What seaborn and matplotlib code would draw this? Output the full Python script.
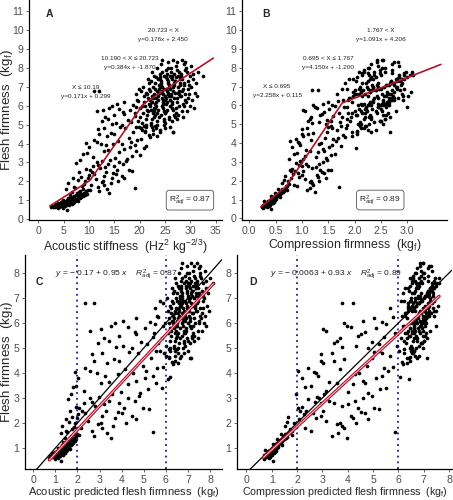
import numpy as np
import pandas as pd
import matplotlib
matplotlib.use("Agg")
import matplotlib.pyplot as plt
import seaborn as sns

# flesh firmness (kgf), acoustic stiffness, compression firmness (kgf) -- one entry per fruit
firmness = [
    # soft fruit
    0.62, 0.68, 0.70, 0.66, 0.72, 0.75, 0.58, 0.80, 0.64, 0.78,
    0.85, 0.70, 0.90, 0.60, 0.82, 0.75, 0.95, 0.68, 0.88, 0.50,
    1.00, 0.78, 0.92, 0.72, 1.05, 0.85, 1.10, 0.80, 0.95, 1.15,
    0.90, 1.20, 1.00, 1.25, 1.05, 0.98, 1.30, 1.12, 1.35, 1.20,
    1.40, 1.28, 1.50, 1.45, 1.55, 0.65, 0.74, 0.83, 0.93, 1.02,
    0.76, 0.88, 0.97, 1.08, 1.18, 1.22, 0.86, 0.79, 1.32, 1.14,
    0.69, 0.94, 1.06, 1.38, 0.84, 1.25, 0.73, 1.48, 1.60, 1.42,
    1.58, 1.65, 0.91, 0.71, 1.12, 1.35, 0.99, 1.16, 0.87, 1.52,
    # 1.6 - 3.2
    1.90, 1.75, 2.00, 2.95, 2.50, 2.20, 2.60, 2.80, 2.40, 3.00,
    1.80, 2.10, 1.50, 1.95, 1.80, 2.50, 1.40, 2.20, 2.80, 2.60,
    3.00, 2.30, 2.00, 1.70, 2.70, 2.45, 2.90, 1.65, 2.55, 2.15,
    2.35, 1.85, 2.05, 2.65, 1.70, 2.25, 2.75, 3.10, 2.90, 1.60,
    2.40, 3.15, 2.85, 2.00, 2.60, 1.90, 3.05, 2.30, 2.50, 2.15,
    # 3.2 - 5
    3.80, 4.20, 3.50, 4.50, 4.10, 3.30, 4.80, 4.00, 3.60, 4.40,
    3.70, 3.20, 3.80, 4.20, 3.40, 4.60, 4.00, 3.90, 4.70, 3.55,
    4.30, 4.90, 3.25, 3.95, 4.15, 4.55, 3.65, 4.85, 3.85, 4.35,
    4.65, 3.75, 4.95, 4.60, 4.25, 3.35, 4.75, 3.45, 4.05, 3.15,
    4.45, 4.90, 3.60, 4.10, 4.80, 4.50, 3.90, 4.70, 4.40, 4.95,
    # 5 - 6.8, stiffness below 20
    6.80, 6.80, 5.70, 5.20, 5.40, 5.90, 6.00, 5.50, 6.10, 5.85,
    5.00, 5.55, 6.20, 5.80, 5.30, 5.05, 5.65, 6.05, 5.25, 5.95,
    5.15, 6.25, 5.45, 5.75, 5.10,
    # firm fruit
    5.6, 6.3, 4.9, 6.9, 5.2, 6.6,
    6.0, 5.4, 6.5, 4.8, 7.0, 5.9, 6.2, 5.1, 6.8, 5.6,
    6.1, 5.3, 6.6, 4.6, 7.2, 5.8, 6.4, 5.0, 6.9, 5.5, 6.0, 7.4, 4.9, 6.3, 5.7, 6.7,
    6.2, 5.4, 6.8, 4.7, 7.3, 5.9, 6.5, 5.1, 7.0, 5.6, 6.1, 7.6, 5.0, 6.4, 5.8, 6.9,
    5.3, 6.6, 6.0, 7.8, 4.5, 5.7,
    6.3, 5.5, 7.0, 4.8, 7.4, 6.0, 6.7, 5.2, 7.2, 5.8, 6.4, 7.7, 5.0, 6.6, 6.1, 7.1,
    5.6, 6.9, 6.2, 8.0, 4.6, 5.9, 6.5, 7.5, 5.4, 6.8,
    6.4, 5.6, 7.1, 5.0, 7.5, 6.1, 6.8, 5.3, 7.3, 5.9, 6.5, 7.8, 5.2, 6.7, 6.2, 7.2,
    5.7, 7.0, 6.3, 8.2, 4.8, 6.0, 6.6, 7.6, 5.5, 6.9, 8.4, 7.4,
    6.5, 5.7, 7.2, 5.1, 7.6, 6.2, 6.9, 5.4, 7.4, 6.0, 6.6, 7.9, 5.3, 6.8, 6.3, 7.3,
    5.8, 7.1, 6.4, 8.3, 4.9, 6.1, 6.7, 7.7, 5.6, 7.0, 8.0, 7.5,
    6.6, 5.8, 7.3, 5.2, 7.7, 6.3, 7.0, 5.5, 7.5, 6.1, 6.7, 8.0, 4.6, 6.9, 6.4, 7.4,
    5.9, 7.2, 6.5, 8.4, 5.4, 6.2, 6.8, 7.8, 7.1, 7.6,
    6.7, 5.9, 7.4, 5.3, 7.8, 6.4, 7.1, 5.6, 7.6, 6.2, 6.8, 8.1, 7.0, 6.5, 7.5, 6.0,
    7.3, 6.6, 8.3, 5.5, 7.2, 7.9,
    6.8, 6.0, 7.5, 5.4, 7.9, 6.5, 7.2, 5.7, 7.7, 6.3, 6.9, 8.4, 7.1, 6.6, 7.6, 6.1,
    7.4, 8.2,
    6.9, 6.2, 7.6, 5.7, 8.0, 6.6, 7.3, 6.0, 7.8, 6.4, 8.3, 7.1,
    7.0, 6.3, 7.7, 5.9, 8.1, 6.7, 7.4,
    7.2, 6.5, 7.8,
    7.6,
]

stiffness = [
    2.5, 2.8, 3.1, 3.4, 3.6, 3.3, 3.9, 3.8, 4.2, 4.4,
    4.0, 4.6, 4.5, 4.8, 4.9, 5.1, 5.0, 5.3, 5.4, 5.6,
    5.6, 5.8, 5.9, 6.1, 6.0, 6.3, 6.4, 6.6, 6.7, 6.8,
    7.0, 7.1, 7.3, 7.5, 7.7, 7.9, 8.0, 8.2, 8.5, 8.8,
    9.0, 9.3, 9.5, 8.1, 9.8, 3.0, 4.1, 5.2, 6.2, 6.9,
    5.5, 4.7, 5.7, 7.4, 6.5, 7.8, 6.0, 3.5, 8.7, 5.8,
    4.3, 7.2, 6.6, 7.6, 5.0, 6.2, 4.5, 8.3, 5.5, 6.7,
    8.9, 7.3, 5.3, 3.7, 7.0, 9.6, 4.9, 8.4, 6.8, 10.2,
    5.9, 8.6, 9.2, 7.5, 8.0, 9.8, 10.3, 10.8, 11.0, 11.5,
    10.5, 11.3, 12.0, 12.5, 13.0, 13.4, 14.0, 14.5, 15.0, 15.6,
    16.0, 16.5, 12.8, 11.8, 12.2, 14.8, 13.8, 19.0, 18.5, 17.0,
    10.0, 9.0, 7.8, 9.5, 7.0, 8.4, 13.2, 17.3, 16.8, 13.6,
    15.3, 14.2, 11.8, 15.8, 17.8, 14.3, 12.6, 13.0, 10.6, 6.8,
    10.0, 11.0, 9.6, 12.0, 11.6, 10.8, 13.0, 12.4, 12.9, 13.6,
    17.0, 17.5, 18.0, 19.5, 20.0, 18.7, 16.6, 19.0, 20.5, 16.0,
    17.8, 19.8, 15.2, 14.8, 15.7, 14.4, 13.8, 16.2, 21.3, 22.0,
    21.0, 20.8, 23.0, 26.5, 20.2, 18.4, 11.8, 8.8, 9.4, 8.2,
    21.8, 22.5, 19.3, 18.2, 17.2, 15.0, 13.3, 24.0, 23.4, 20.9,
    11.0, 12.0, 11.6, 12.5, 13.2, 14.0, 14.5, 15.0, 15.5, 16.0,
    16.5, 17.0, 17.0, 18.0, 13.8, 14.6, 16.8, 18.6, 17.6, 19.2,
    18.3, 19.6, 19.0, 12.8, 15.4,
    19.1, 19.4, 19.3, 19.8, 19.6, 19.2,
    20.45, 20.05, 20.8, 20.3, 20.65, 20.15, 20.9, 20.55, 20.2, 20.7,
    21.75, 21.2, 21.5, 21.05, 21.9, 21.35, 21.6, 21.15, 21.85, 21.45, 21.0, 21.7, 21.3, 21.95,
    21.55, 21.25,
    22.35, 22.8, 22.05, 22.6, 22.25, 22.9, 22.45, 22.15, 22.7, 22.55, 22.0, 22.85, 22.3, 22.65,
    22.2, 22.95, 22.5, 22.75, 22.1, 22.4, 22.6, 22.85,
    23.65, 23.05, 23.9, 23.3, 23.55, 23.15, 23.8, 23.45, 23.0, 23.7, 23.25, 23.95, 23.4, 23.6,
    23.1, 23.85, 23.35, 23.75, 23.2, 23.5, 23.9, 23.05, 23.6, 23.3, 23.8, 23.45,
    24.45, 24.95, 24.2, 24.7, 24.05, 24.55, 24.3, 24.85, 24.15, 24.6, 24.9, 24.35, 24.75, 24.0,
    24.5, 24.25, 24.8, 24.4, 24.65, 24.1, 24.95, 24.3, 24.55, 24.85, 24.2, 24.7, 24.45, 24.05,
    25.8, 25.25, 25.55, 25.05, 25.9, 25.4, 25.15, 25.7, 25.35, 25.95, 25.6, 25.1, 25.85, 25.45,
    25.0, 25.65, 25.3, 25.75, 25.2, 25.5, 25.9, 25.15, 25.6, 25.35, 25.05, 25.8, 25.5, 25.25,
    26.15, 26.6, 26.9, 26.35, 26.7, 26.05, 26.5, 26.85, 26.25, 26.45, 26.95, 26.2, 26.65, 26.0,
    26.8, 26.4, 26.3, 26.75, 26.1, 26.55, 26.9, 26.45, 26.6, 26.2, 26.85, 26.35,
    27.55, 27.1, 27.85, 27.4, 27.7, 27.25, 27.95, 27.05, 27.6, 27.35, 27.8, 27.15, 27.45, 27.9,
    27.2, 27.65, 27.0, 27.75, 27.3, 27.5, 27.85, 27.4,
    28.3, 28.75, 28.05, 28.55, 28.9, 28.2, 28.65, 28.4, 28.1, 28.85, 28.5, 28.25, 28.7, 28.95,
    28.15, 28.6, 28.35, 28.8,
    29.6, 29.15, 29.85, 29.35, 29.05, 29.7, 29.45, 29.9, 29.25, 29.55, 29.0, 29.8,
    30.1, 30.3, 30.5, 30.6, 30.2, 30.8, 30.4,
    31.0, 31.3, 31.5,
    32.4,
]

compression = [
    0.25, 0.27, 0.30, 0.28, 0.32, 0.31, 0.26, 0.35, 0.30, 0.33,
    0.36, 0.29, 0.38, 0.34, 0.40, 0.31, 0.39, 0.37, 0.42, 0.42,
    0.44, 0.35, 0.41, 0.33, 0.46, 0.38, 0.48, 0.43, 0.45, 0.50,
    0.47, 0.52, 0.40, 0.55, 0.49, 0.44, 0.57, 0.51, 0.60, 0.53,
    0.62, 0.58, 0.65, 0.66, 0.63, 0.36, 0.27, 0.45, 0.36, 0.42,
    0.30, 0.34, 0.47, 0.46, 0.41, 0.49, 0.39, 0.34, 0.54, 0.43,
    0.35, 0.37, 0.50, 0.48, 0.32, 0.56, 0.39, 0.59, 0.68, 0.64,
    0.55, 0.70, 0.28, 0.26, 0.58, 0.61, 0.48, 0.45, 0.33, 0.72,
    0.62, 0.70, 0.74, 0.88, 0.80, 0.95, 0.78, 1.00, 0.92, 0.98,
    0.85, 1.05, 1.10, 1.15, 1.22, 1.02, 1.25, 1.30, 1.12, 1.35,
    1.40, 1.28, 1.18, 0.90, 1.20, 1.38, 1.08, 1.70, 1.55, 1.45,
    0.84, 0.76, 0.66, 0.82, 0.72, 0.68, 1.26, 1.48, 1.32, 1.16,
    1.42, 1.03, 0.94, 1.33, 1.50, 1.20, 0.96, 1.00, 0.86, 0.79,
    0.82, 0.88, 0.90, 1.00, 0.78, 1.05, 1.10, 0.95, 1.15, 1.02,
    1.40, 1.45, 1.52, 1.60, 1.62, 1.48, 1.36, 1.58, 1.66, 1.30,
    1.44, 1.55, 1.26, 1.32, 1.18, 1.22, 1.08, 1.50, 1.75, 1.82,
    2.05, 2.02, 2.10, 2.32, 1.68, 1.56, 1.00, 0.85, 0.93, 0.76,
    1.78, 2.20, 1.42, 1.64, 1.58, 1.12, 0.97, 2.25, 1.95, 1.85,
    1.20, 1.30, 1.05, 1.12, 1.18, 1.25, 1.22, 1.35, 1.40, 1.28,
    1.45, 1.38, 1.50, 1.52, 1.15, 1.20, 1.42, 1.58, 1.48, 1.62,
    1.55, 1.68, 1.60, 1.02, 1.33,
    1.70, 1.78, 1.74, 1.85, 1.92, 1.66,
    2.06, 1.76, 1.98, 1.84, 2.10, 1.80, 1.95, 1.72, 2.00, 1.88,
    2.18, 1.86, 2.08, 1.95, 1.82, 2.22, 1.92, 2.12, 1.76, 2.02, 2.15, 1.90, 2.10, 1.88, 2.00, 1.98,
    2.30, 1.94, 2.16, 2.40, 2.02, 1.85, 2.25, 2.10, 2.35, 1.96, 2.12, 2.28, 2.06, 1.90, 2.20, 2.08,
    2.32, 2.00, 2.25, 2.18, 2.05, 2.12,
    2.36, 2.05, 2.44, 2.18, 1.98, 2.30, 2.12, 2.50, 2.22, 2.08, 2.38, 2.14, 2.55, 2.02, 2.28, 2.42,
    2.20, 2.10, 2.35, 2.26, 2.04, 2.45, 2.15, 2.32, 2.20, 2.32,
    2.45, 2.14, 2.60, 2.28, 2.05, 2.52, 2.36, 2.18, 2.70, 2.22, 2.42, 2.08, 2.48, 2.30, 2.65, 2.15,
    2.40, 2.24, 2.55, 2.32, 2.12, 2.46, 2.20, 2.38, 2.54, 2.25, 2.42, 2.30,
    2.56, 2.24, 2.70, 2.38, 2.15, 2.62, 2.46, 2.28, 2.80, 2.32, 2.52, 2.18, 2.58, 2.40, 2.75, 2.25,
    2.50, 2.34, 2.65, 2.42, 2.22, 2.55, 2.30, 2.48, 2.64, 2.35, 2.52, 2.40,
    2.66, 2.34, 2.80, 2.48, 2.25, 2.72, 2.56, 2.30, 2.85, 2.44, 2.62, 2.28, 2.68, 2.50, 2.75, 2.35,
    2.60, 2.45, 2.74, 2.52, 2.32, 2.65, 2.40, 2.58, 2.62, 2.50,
    2.76, 2.44, 2.90, 2.58, 2.38, 2.82, 2.66, 2.42, 2.95, 2.55, 2.72, 2.45, 2.78, 2.60, 2.85, 2.50,
    2.70, 2.62, 2.75, 2.60, 2.68, 2.72,
    2.86, 2.54, 3.00, 2.68, 2.48, 2.92, 2.76, 2.52, 2.95, 2.65, 2.80, 2.55, 2.88, 2.70, 2.85, 2.60,
    2.78, 2.72,
    2.95, 2.62, 3.05, 2.78, 2.58, 2.90, 2.86, 2.65, 2.98, 2.70, 2.82, 2.75,
    2.80, 2.92, 2.72, 3.00, 2.85, 3.08, 2.95,
    2.90, 3.02, 3.10,
    3.12,
]

# piecewise fits given in panels A and B
a_breaks = [10.19, 20.723]
a_slopes = [0.171, 0.384, 0.176]
a_icepts = [0.299, -1.870, 2.450]
a_line_range = [2.3, 34.5]
a_labels = ["X \u2264 10.19\ny=0.171x + 0.299",
            "10.190 < X \u2264 20.723\ny=0.384x + -1.870",
            "20.723 < X\ny=0.176x + 2.450"]

b_breaks = [0.695, 1.767]
b_slopes = [2.258, 4.150, 1.091]
b_icepts = [0.115, -1.200, 4.206]
b_line_range = [0.22, 3.64]
b_labels = ["X \u2264 0.695\ny=2.258x + 0.115",
            "0.695 < X \u2264 1.767\ny=4.150x + -1.200",
            "1.767 < X\ny=1.091x + 4.206"]

r2 = [0.87, 0.89]
c_fit = [-0.17, 0.95]
d_fit = [-0.0063, 0.93]
thresholds = [2, 6]


def piecewise(x, breaks, slopes, icepts):
    x = np.asarray(x, dtype=float)
    seg = np.digitize(x, breaks, right=True)
    return np.array(slopes)[seg] * x + np.array(icepts)[seg]


df = pd.DataFrame({"firm": firmness, "stiff": stiffness, "comp": compression})
df["pred_a"] = piecewise(df["stiff"], a_breaks, a_slopes, a_icepts)
df["pred_b"] = piecewise(df["comp"], b_breaks, b_slopes, b_icepts)

sns.set_style("ticks")
plt.rcParams["font.family"] = ["Liberation Sans", "DejaVu Sans"]
plt.rcParams["mathtext.fontset"] = "custom"
plt.rcParams["mathtext.rm"] = "Liberation Sans"
plt.rcParams["mathtext.it"] = "Liberation Sans:italic"
plt.rcParams["mathtext.bf"] = "Liberation Sans:bold"

fig = plt.figure(figsize=(4.53, 5.0), dpi=100)
axA = fig.add_axes([0.064, 0.56, 0.426, 0.44])
axB = fig.add_axes([0.534, 0.56, 0.453, 0.44])
axC = fig.add_axes([0.055, 0.062, 0.435, 0.428])
axD = fig.add_axes([0.523, 0.062, 0.475, 0.428])

red = "#b3122a"
grey = "#4d4d4d"
dot_kw = dict(color="black", s=7, linewidth=0, legend=False)
ylab_size = 9.6
xlab_size = 8.0


def style(ax):
    for s in ["top", "right"]:
        ax.spines[s].set_visible(False)
    for s in ["left", "bottom"]:
        ax.spines[s].set_linewidth(0.9)
        ax.spines[s].set_color("black")
    ax.tick_params(colors=grey, labelsize=7.6, length=2.5, width=0.6, pad=1.5)
    ax.set_xlabel("")
    ax.set_ylabel("")


# panel A
sns.scatterplot(data=df, x="stiff", y="firm", ax=axA, **dot_kw)
xa = np.linspace(a_line_range[0], a_line_range[1], 200)
axA.plot(xa, piecewise(xa, a_breaks, a_slopes, a_icepts), color=red, lw=1.2)
style(axA)
axA.set_xlim(-1.8, 36.2)
axA.set_ylim(-0.05, 11.6)
axA.set_xticks(range(0, 36, 5))
axA.set_yticks(range(0, 12))
axA.set_xlabel(r"Acoustic stiffness  (Hz$^2$ kg$^{-2/3}$)", fontsize=8.8, labelpad=1)
axA.set_ylabel(r"Flesh firmness  (kg$_\mathregular{f}$)", fontsize=ylab_size)
axA.yaxis.set_label_coords(-0.075, 0.5)
for (tx, ty), lab in zip([(9.3, 6.75), (18.1, 8.25), (24.6, 9.75)], a_labels):
    axA.text(tx, ty, lab, fontsize=4.6, ha="center", va="center", color="#222222",
             linespacing=2.0)
axA.text(29.9, 1.0, r"R$^2_{adj}$ = %.2f" % r2[0], fontsize=6, ha="center", va="center",
         color="#222222", bbox=dict(boxstyle="round,pad=0.35", fc="white", ec="#555555", lw=0.6))
axA.text(1.5, 10.7, "A", fontsize=7.5, fontweight="bold")

# panel B
sns.scatterplot(data=df, x="comp", y="firm", ax=axB, **dot_kw)
xb = np.linspace(b_line_range[0], b_line_range[1], 200)
axB.plot(xb, piecewise(xb, b_breaks, b_slopes, b_icepts), color=red, lw=1.2)
style(axB)
axB.set_xlim(-0.14, 3.76)
axB.set_ylim(-0.08, 11.6)
axB.set_xticks(np.arange(0, 3.01, 0.5))
axB.set_xticklabels(["0.0", "0.5", "1.0", "1.5", "2.0", "2.5", "3.0"])
axB.set_yticks(range(0, 12))
axB.set_xlabel(r"Compression firmness  (kg$_\mathregular{f}$)", fontsize=8.8, labelpad=1)
for (tx, ty), lab in zip([(0.53, 6.75), (1.5, 8.25), (2.5, 9.75)], b_labels):
    axB.text(tx, ty, lab, fontsize=4.6, ha="center", va="center", color="#222222",
             linespacing=2.0)
axB.text(2.49, 0.98, r"R$^2_{adj}$ = %.2f" % r2[1], fontsize=6, ha="center", va="center",
         color="#222222", bbox=dict(boxstyle="round,pad=0.35", fc="white", ec="#555555", lw=0.6))
axB.text(0.25, 10.7, "B", fontsize=7.5, fontweight="bold")


def pred_panel(ax, col, fit, xlim, label, letter, text_x, eq, lab_size):
    sns.scatterplot(data=df, x=col, y="firm", ax=ax, **dot_kw)
    for t in thresholds:
        ax.axvline(t, color="#1a1a8c", lw=1.3, ls=(0, (1, 2.2)))
    ax.plot(xlim, xlim, color="black", lw=0.9)
    xr = np.linspace(df[col].min(), df[col].max(), 50)
    ax.plot(xr, fit[0] + fit[1] * xr, color=red, lw=2.3)
    ax.plot(xr, fit[0] + fit[1] * xr, color="#f6dede", lw=0.6)
    style(ax)
    ax.set_xlim(*xlim)
    ax.set_ylim(0.16, 8.72)
    ax.set_xticks(range(0, 9))
    ax.set_yticks(range(1, 9))
    ax.set_xlabel(label, fontsize=lab_size, labelpad=0)
    ax.text(text_x, 7.95, eq, fontsize=6.1, ha="center", va="center", color="#222222")
    ax.text(0.1, 7.65, letter, fontsize=7.5, fontweight="bold", va="center")


pred_panel(axC, "pred_a", c_fit, (-0.38, 8.54),
           r"Acoustic predicted flesh firmness  (kg$_\mathregular{f}$)", "C", 3.75,
           r"$y$ = $-$ 0.17 + 0.95 $x$    $R^2_{\mathregular{adj}}$ = %.2f" % r2[0], xlab_size)
axC.set_ylabel(r"Flesh firmness  (kg$_\mathregular{f}$)", fontsize=ylab_size)
axC.yaxis.set_label_coords(-0.052, 0.5)
pred_panel(axD, "pred_b", d_fit, (-0.37, 8.12),
           r"Compression predicted flesh firmness  (kg$_\mathregular{f}$)", "D", 3.55,
           r"$y$ = $-$ 0.0063 + 0.93 $x$    $R^2_{\mathregular{adj}}$ = %.2f" % r2[1], 7.7)

fig.savefig("out.png", dpi=100)
